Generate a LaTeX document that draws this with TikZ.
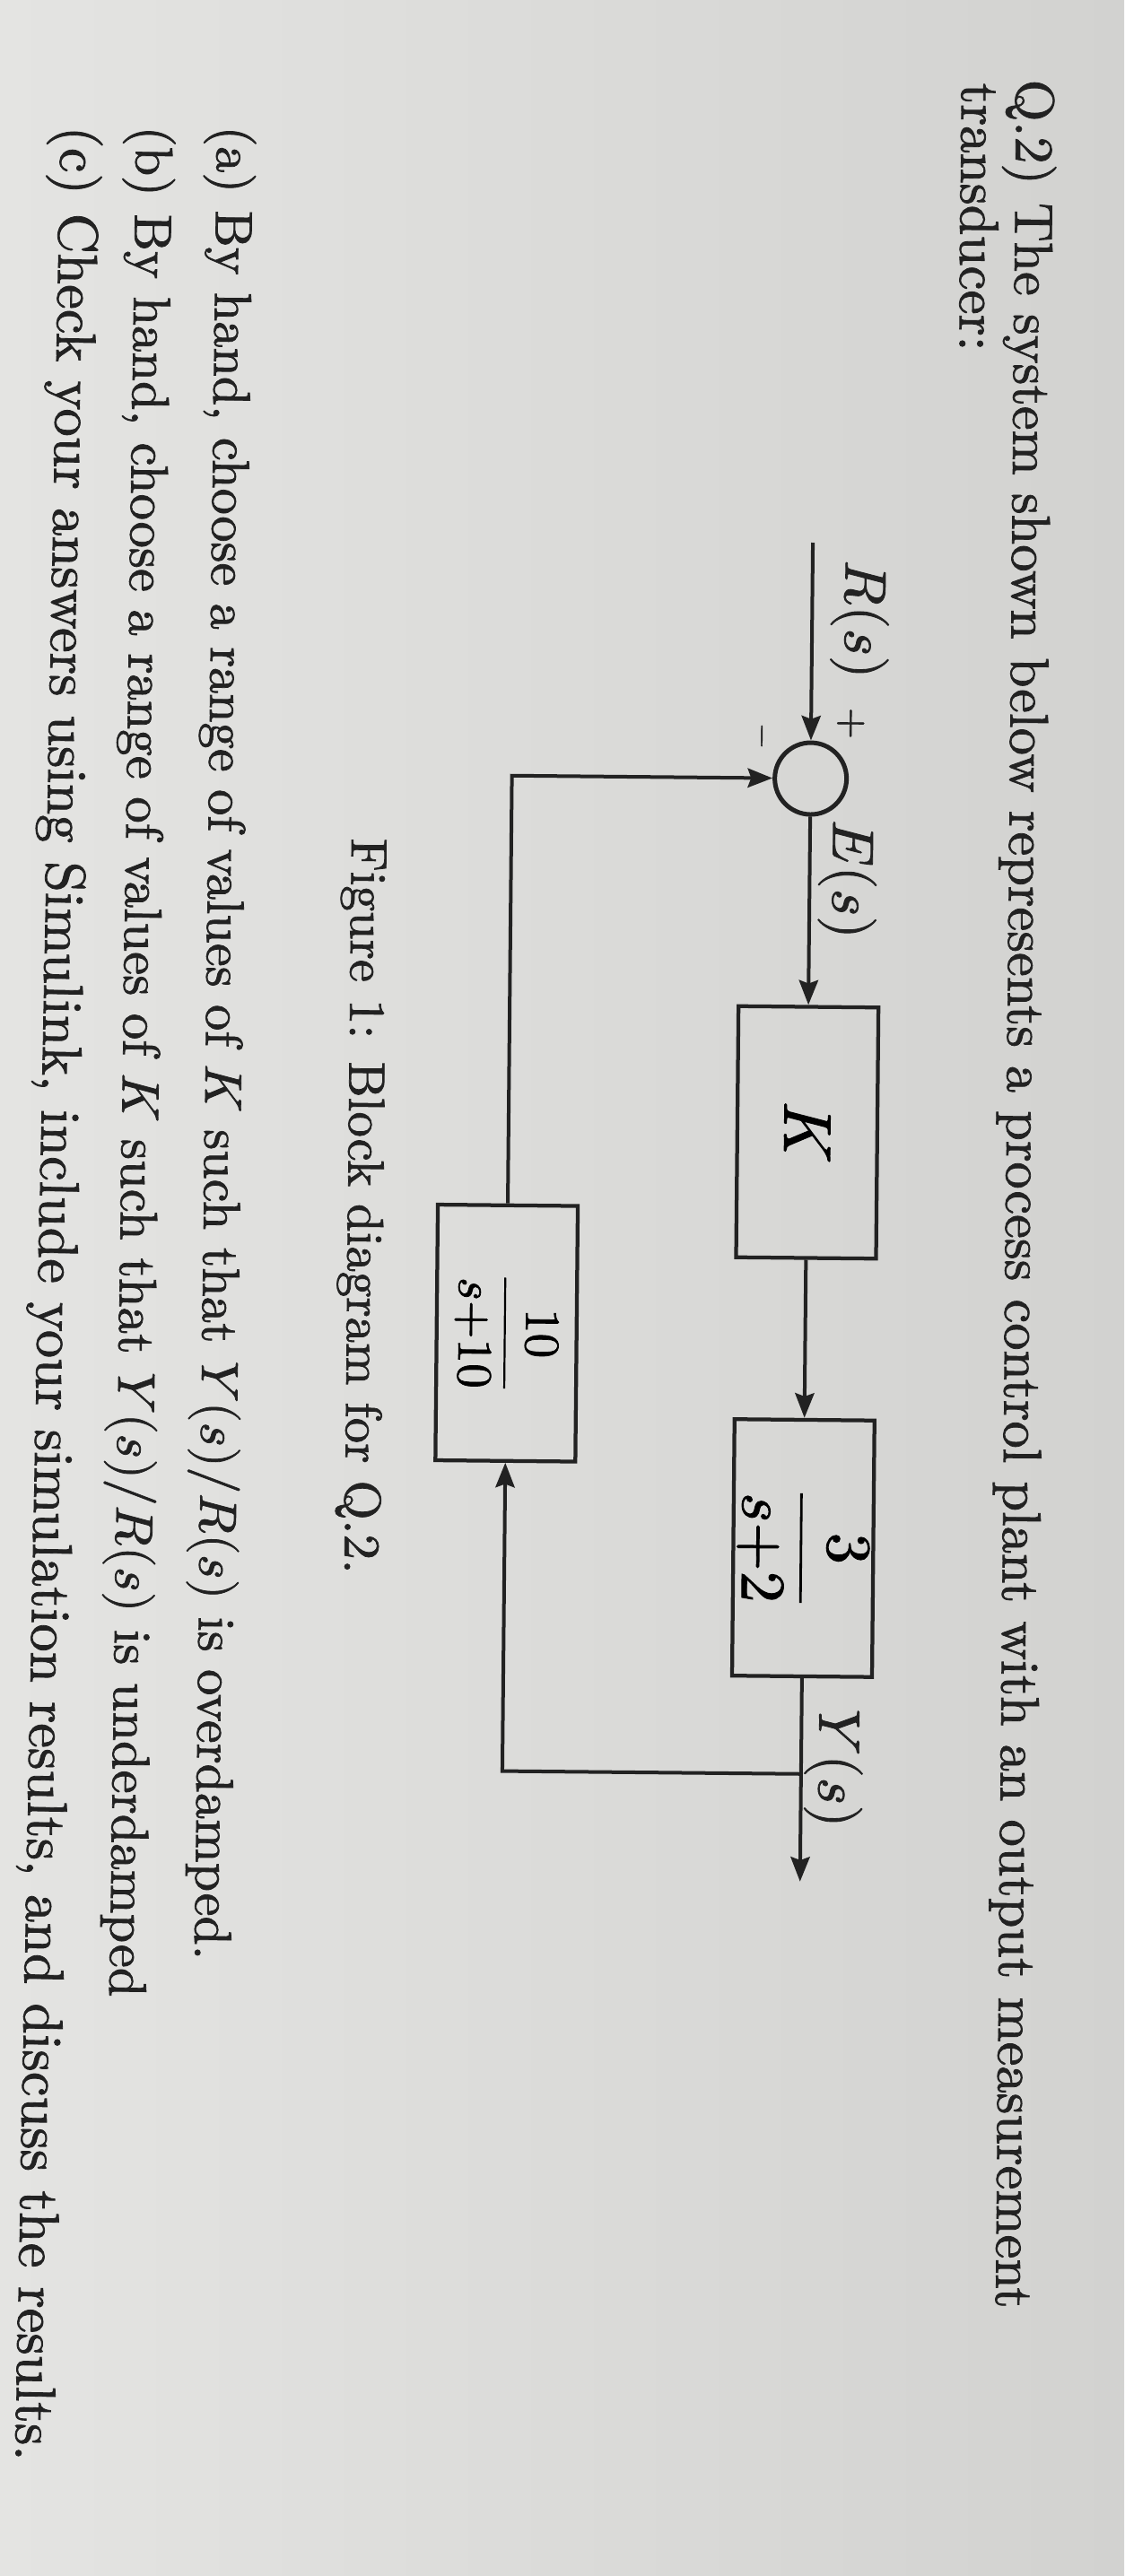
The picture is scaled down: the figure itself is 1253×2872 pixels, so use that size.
\documentclass[tikz,border=0pt]{standalone}
\usepackage{graphicx}
\usepackage{fontspec}
\usepackage{unicode-math}
\setmainfont{Latin Modern Roman}[FakeBold=1.3]
\setmathfont{Latin Modern Math}[FakeBold=1.3]
\usetikzlibrary{arrows.meta}
\definecolor{ink}{RGB}{34,34,34}
\definecolor{paperL}{RGB}{228,228,226}
\definecolor{paperR}{RGB}{210,210,208}
\tikzset{
  blk/.style={draw=ink, line width=1.7pt, minimum width=62.4pt, minimum height=112pt, inner sep=0pt},
  sumnode/.style={draw=ink, circle, line width=2pt, minimum size=32pt, inner sep=0pt},
  sig/.style={draw=ink, line width=1.6pt, -{Stealth[length=11pt,width=8.5pt,inset=1.5pt]}},
  txt/.style={text=ink, inner sep=0pt, anchor=base west},
  lbl/.style={text=ink, inner sep=0pt, rotate=-90},
}
\begin{document}
\begin{tikzpicture}[x=0.4pt, y=-0.4pt]
\useasboundingbox (0,0) rectangle (1253,2872);
\shade[left color=paperL, right color=paperR] (0,0) rectangle (1253,2872);

% question text
\node[txt, rotate=-90.53] (l1) at (1133,88) {\resizebox{994pt}{!}{Q.2) The system shown below represents a process control plant with an output measurement}};
\node[txt, rotate=-90.5] (l2) at (1072,92) {\resizebox{119.6pt}{!}{transducer:}};

% block diagram
\begin{scope}[rotate around={-0.55:(900,1350)}, transform shape]
  \coordinate (rin) at (899,605);
  \node[sumnode] (sum) at (899,868) {};
  \node[blk] (K) at (899,1262.5) {\rotatebox{-90}{\fontsize{30}{36}\selectfont$K$}};
  \node[blk, minimum height=114.4pt] (G) at (899,1726) {\rotatebox{-90}{\fontsize{28}{34}\selectfont$\displaystyle\frac{3}{s{+}2}$}};
  \node[blk, minimum height=114pt] (H) at (566,1489.5) {\rotatebox{-90}{\fontsize{22}{27}\selectfont$\displaystyle\frac{10}{s{+}10}$}};
  \coordinate (br) at (899,1978);
  \coordinate (yout) at (899,2098);
  \draw[sig] (rin) -- (sum);
  \draw[sig] (sum) -- (K);
  \draw[sig] (K) -- (G);
  \draw[sig] (G) -- (yout);
  \draw[sig] (br) -| (H.south);
  \draw[sig] (H.north) |- (sum.west);
  \node[lbl] (Rlab) at (952,690) {\fontsize{26}{31}\selectfont$R(s)$};
  \node[lbl] (plus) at (943,806) {\fontsize{18}{22}\selectfont$+$};
  \node[lbl] (minus) at (840,821) {\fontsize{14}{17}\selectfont$-$};
  \node[lbl] (Elab) at (941,980) {\fontsize{26}{31}\selectfont$E(s)$};
  \node[lbl] (Ylab) at (935,1971) {\fontsize{26}{31}\selectfont$Y(s)$};
\end{scope}

% caption
\node[txt, rotate=-90.56] (cap) at (392,934) {\resizebox{328pt}{!}{Figure 1: Block diagram for Q.2.}};

% items
\node[txt, rotate=-90.70] (ia) at (242,140) {\resizebox{817.8pt}{!}{(a) By hand, choose a range of values of $K$ such that $Y(s)/R(s)$ is overdamped.}};
\node[txt, rotate=-90.82] (ib) at (152,140) {\resizebox{834.4pt}{!}{(b) By hand, choose a range of values of $K$ such that $Y(s)/R(s)$ is underdamped}};
\node[txt, rotate=-91.12] (ic) at (68,140) {\resizebox{1041.2pt}{!}{(c) Check your answers using Simulink, include your simulation results, and discuss the results.}};
\end{tikzpicture}
\end{document}
